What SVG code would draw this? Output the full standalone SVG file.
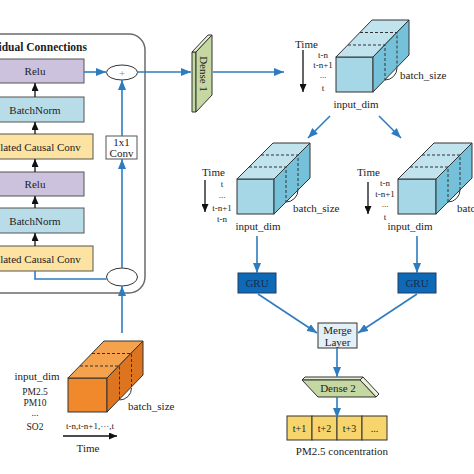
<svg xmlns="http://www.w3.org/2000/svg" width="474" height="474" viewBox="0 0 474 474" font-family="'Liberation Serif', 'Times New Roman', serif">
<style>
text{font-family:'Liberation Serif','Times New Roman',serif;fill:#222}
.t11{font-size:11px}
.t9{font-size:9px}
.c{text-anchor:middle}
.box{stroke:#555;stroke-width:1}
.relu{fill:#cdc2de}
.bn{fill:#b8dde9}
.dil{fill:#fde3a2}
.blue{stroke:#2e7cc0;stroke-width:1.6;fill:none}
.blk{stroke:#111;stroke-width:1.3;fill:none}
.cs{stroke:#333;stroke-width:1}
.cf{fill:#a5d7e7}.ct{fill:#c0e3ee}.cr{fill:#74c1d9}
.of{fill:#f0882c}.ot{fill:#f5a24f}.or{fill:#dc7420}
.dash{stroke:#333;stroke-width:1;stroke-dasharray:3,2;fill:none}
.arc{stroke:#333;stroke-width:1;fill:none}
.green{fill:#c5d8a2;stroke:#333;stroke-width:1}
.lgreen{fill:#e8efd6;stroke:#333;stroke-width:1}
.out{fill:#f8d46c;stroke:#333;stroke-width:1}
</style>
<defs>
<marker id="ab" markerWidth="10" markerHeight="8" refX="10" refY="4" orient="auto" markerUnits="userSpaceOnUse"><path d="M0,0 L10,4 L0,8 z" fill="#2e7cc0"/></marker>
<marker id="ak" markerWidth="8" markerHeight="7" refX="8" refY="3.5" orient="auto" markerUnits="userSpaceOnUse"><path d="M0,0 L8,3.5 L0,7 z" fill="#111"/></marker>
</defs>

<g id="residual-block">
<rect x="-20" y="34" width="165" height="259" rx="16" fill="none" stroke="#6b6b6b" stroke-width="1.5"/>
<text x="87" y="51" text-anchor="end" style="font-size:11.5px;font-weight:bold">Residual Connections</text>
</g>
<g id="relu1"><rect class="box relu" x="-14" y="59" width="98" height="24"/><text class="t11 c" x="35" y="75">Relu</text></g>
<g id="bn1"><rect class="box bn" x="-14" y="97" width="98" height="25"/><text class="t11 c" x="35" y="113.5">BatchNorm</text></g>
<g id="dil1"><rect class="box dil" x="-14" y="134" width="107" height="25"/><text class="t11 c" x="35" y="150.5">Dilated Causal Conv</text></g>
<g id="relu2"><rect class="box relu" x="-14" y="172" width="98" height="24"/><text class="t11 c" x="35" y="188">Relu</text></g>
<g id="bn2"><rect class="box bn" x="-14" y="208" width="98" height="25"/><text class="t11 c" x="35" y="224.5">BatchNorm</text></g>
<g id="dil2"><rect class="box dil" x="-14" y="246" width="107" height="25"/><text class="t11 c" x="35" y="262.5">Dilated Causal Conv</text></g>
<g id="sum"><ellipse cx="122" cy="72.5" rx="15.5" ry="7.5" fill="#fff" stroke="#333"/><text class="c" x="122" y="76.5" style="font-size:11px;fill:#888">+</text></g>
<g id="conv1x1"><rect class="box" x="106" y="136" width="31" height="23" fill="#fff"/><text class="t11 c" x="121.5" y="146">1x1</text><text class="t11 c" x="121.5" y="157">Conv</text></g>
<g id="split"><ellipse cx="122" cy="277" rx="15.5" ry="9" fill="#fff" stroke="#333"/></g>

<g id="input-cube">
<rect class="of cs" x="68" y="378" width="39" height="34"/>
<polygon class="ot cs" points="68,378 107,378 143,341 104,341"/>
<polygon class="or cs" points="107,378 143,341 143,375 107,412"/>
<path class="dash" d="M80,366 H119.5 V400 M92,353.5 H131.5 V388"/>
<path class="arc" d="M119.5,400 A12,12 0 0 0 131.5,388"/>
<text class="t11 c" x="37" y="380">input_dim</text>
<text class="c" x="35" y="395" style="font-size:9.5px">PM2.5</text>
<text class="c" x="35" y="406" style="font-size:9.5px">PM10</text>
<text class="c" x="35" y="416" style="font-size:9.5px">...</text>
<text class="c" x="35" y="430" style="font-size:9.5px">SO2</text>
<text class="t11" x="128" y="410">batch_size</text>
<text class="t9 c" x="90" y="429">t-n,t-n+1,···,t</text>
<text class="t11 c" x="88" y="452">Time</text>
</g>

<g id="dense1">
<polygon class="green" points="192,52 196,52 196,112 192,112"/>
<polygon class="lgreen" points="192,52 208,35 212,35 196,52"/>
<polygon class="green" points="196,52 212,35 212,95 196,112"/>
<text class="t11 c" x="0" y="0" transform="translate(200,74) rotate(90)">Dense 1</text>
</g>

<g id="cube-top">
<rect class="cf cs" x="336" y="57" width="37" height="35"/>
<polygon class="ct cs" points="336,57 373,57 409,20 372,20"/>
<polygon class="cr cs" points="373,57 409,20 409,55 373,92"/>
<path class="dash" d="M348,45 H385 V80 M360,32.5 H397 V67.5"/>
<path class="arc" d="M385,80 A12,12 0 0 0 397,68"/>
<text class="t11" x="295" y="48">Time</text>
<text class="t9 c" x="323" y="58">t-n</text>
<text class="t9 c" x="323" y="68">t-n+1</text>
<text class="t9 c" x="323" y="78">...</text>
<text class="t9 c" x="323" y="91">t</text>
<text class="t11 c" x="356" y="108">input_dim</text>
<text class="t11" x="400" y="79">batch_size</text>
</g>

<g id="cube-left">
<rect class="cf cs" x="237" y="179" width="37" height="35"/>
<polygon class="ct cs" points="237,179 274,179 310,143 273,143"/>
<polygon class="cr cs" points="274,179 310,143 310,178 274,214"/>
<path class="dash" d="M249,167 H286 V202 M261,155 H298 V190"/>
<path class="arc" d="M286,202 A12,12 0 0 0 298,190"/>
<text class="t11" x="202" y="176">Time</text>
<text class="t9 c" x="222" y="187">t</text>
<text class="t9 c" x="222" y="198">...</text>
<text class="t9 c" x="222" y="211">t-n+1</text>
<text class="t9 c" x="222" y="222">t-n</text>
<text class="t11 c" x="258" y="230">input_dim</text>
<text class="t11" x="293" y="212">batch_size</text>
</g>

<g id="cube-right">
<rect class="cf cs" x="398" y="179" width="38" height="35"/>
<polygon class="ct cs" points="398,179 436,179 472,143 434,143"/>
<polygon class="cr cs" points="436,179 472,143 472,178 436,214"/>
<path class="dash" d="M410,167 H448 V202 M422,155 H460 V190"/>
<path class="arc" d="M448,202 A12,12 0 0 0 460,190"/>
<text class="t11" x="357" y="176">Time</text>
<text class="t9 c" x="385" y="186">t-n</text>
<text class="t9 c" x="385" y="197">t-n+1</text>
<text class="t9 c" x="385" y="207">...</text>
<text class="t9 c" x="385" y="220">t</text>
<text class="t11 c" x="410" y="230">input_dim</text>
<text class="t11" x="457" y="212">batch_size</text>
</g>

<g id="gru-left"><rect x="238" y="273" width="38" height="20" fill="#0e6ab7" stroke="#1c3a66"/><text class="t11 c" x="257" y="287" style="fill:#1b2a4e">GRU</text></g>
<g id="gru-right"><rect x="398" y="273" width="38" height="20" fill="#0e6ab7" stroke="#1c3a66"/><text class="t11 c" x="417" y="287" style="fill:#1b2a4e">GRU</text></g>
<g id="merge"><rect x="318" y="323" width="39" height="25" fill="#e3f0f6" stroke="#333"/><text class="t11 c" x="337.5" y="334">Merge</text><text class="t11 c" x="337.5" y="345.5">Layer</text></g>

<g id="dense2">
<polygon class="lgreen" points="302,380 305,377 363,377 360,380"/>
<polygon class="lgreen" points="360,380 363,377 379,394 376,397"/>
<polygon class="green" points="302,380 360,380 376,397 318,397"/>
<text class="t11 c" x="338" y="392">Dense 2</text>
</g>

<g id="output">
<rect class="out" x="287" y="416" width="25" height="24"/>
<rect class="out" x="312" y="416" width="25" height="24"/>
<rect class="out" x="337" y="416" width="25" height="24"/>
<rect class="out" x="362" y="416" width="25" height="24"/>
<text class="c" x="299.5" y="432" style="font-size:10px">t+1</text>
<text class="c" x="324.5" y="432" style="font-size:10px">t+2</text>
<text class="c" x="349.5" y="432" style="font-size:10px">t+3</text>
<text class="c" x="374.5" y="432" style="font-size:10px">...</text>
<text class="t11 c" x="342" y="455">PM2.5 concentration</text>
</g>

<g id="connectors">
<path class="blue" d="M84,72 H106" marker-end="url(#ab)"/>
<path class="blue" d="M137.5,72 H191" marker-end="url(#ab)"/>
<path class="blue" d="M213,72 H284" marker-end="url(#ab)"/>
<path class="blue" d="M122,136 V80" marker-end="url(#ab)"/>
<path class="blue" d="M122,268 V159" marker-end="url(#ab)"/>
<path class="blue" d="M35,271 V279 H106.5"/>
<path class="blue" d="M122,333 V286" marker-end="url(#ab)"/>
<path class="blue" d="M330,116 L308,138" marker-end="url(#ab)"/>
<path class="blue" d="M379,116 L401,138" marker-end="url(#ab)"/>
<path class="blue" d="M257,236 V273" marker-end="url(#ab)"/>
<path class="blue" d="M417,236 V273" marker-end="url(#ab)"/>
<path class="blue" d="M258,294 L317,333" marker-end="url(#ab)"/>
<path class="blue" d="M417,294 L358,333" marker-end="url(#ab)"/>
<path class="blue" d="M337,348 V377" marker-end="url(#ab)"/>
<path class="blue" d="M337,397 V418" marker-end="url(#ab)"/>
<path class="blk" d="M35,97 V83" marker-end="url(#ak)"/>
<path class="blk" d="M35,134 V122" marker-end="url(#ak)"/>
<path class="blk" d="M35,172 V159" marker-end="url(#ak)"/>
<path class="blk" d="M35,208 V196" marker-end="url(#ak)"/>
<path class="blk" d="M35,246 V233" marker-end="url(#ak)"/>
<path class="blk" d="M303,50 V92" marker-end="url(#ak)"/>
<path class="blk" d="M205,180 V212" marker-end="url(#ak)"/>
<path class="blk" d="M368,182 V214" marker-end="url(#ak)"/>
<path class="blk" d="M63,436 H117" marker-end="url(#ak)"/>
</g>
</svg>
